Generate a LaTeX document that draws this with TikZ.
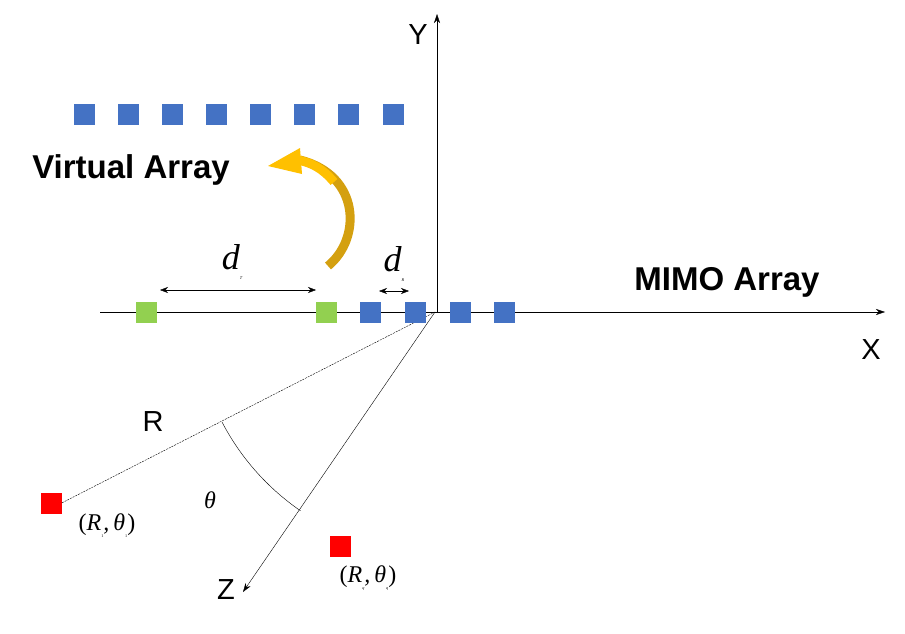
\documentclass[tikz,border=0pt]{standalone}
\usepackage{fontspec}
\setmainfont{Liberation Sans}
\newfontfamily\mserif{Liberation Serif}
\usetikzlibrary{arrows.meta}
\definecolor{blu}{HTML}{4472C4}
\definecolor{grn}{HTML}{92D050}
\definecolor{gold}{HTML}{D4A010}
\definecolor{amber}{HTML}{FFC000}
\newcommand{\sbs}[1]{\raisebox{-0.3em}{\scriptsize\fontsize{0.6em}{0.7em}\selectfont #1}}
\begin{document}
\begin{tikzpicture}[x=1pt,y=-1pt,
  sq/.style={minimum size=21pt,inner sep=0pt,draw=none},
  ax/.style={-{Stealth[length=9pt,width=6pt]}},
  lbl/.style={font=\fontsize{29}{34}\selectfont},
  ttl/.style={font=\bfseries\fontsize{33}{38}\selectfont},
  big/.style={font=\mserif\itshape\fontsize{36}{40}\selectfont},
  mid/.style={font=\mserif\itshape\fontsize{24}{28}\selectfont},
  dim/.style={{Stealth[length=8pt,width=6pt]}-{Stealth[length=8pt,width=6pt]}}]
\useasboundingbox (0,0) rectangle (905,634);
% axes
\coordinate (O) at (435,312);
\coordinate (xs) at (100,312);
\coordinate (xe) at (885,312);
\coordinate (ye) at (437,14);
\coordinate (ze) at (243,592);
\draw[ax] (xs) -- (xe);
\draw[ax] (437,312) -- (ye);
\draw[ax] (O) -- (ze);
% targets
\node[sq,fill=red] (t1) at (51,503) {};
\draw[dashed,dash pattern=on 2pt off 1pt] (O) -- (t1.east);
\node[sq,fill=red] (tq) at (340,546) {};
% angle arc
\draw (222,422) arc[start angle=152.5,end angle=124.5,radius=245];
% virtual array
\foreach \x [count=\i] in {84,128,172,216,260,304,348,393}
  \node[sq,fill=blu] (v\i) at (\x,114) {};
% MIMO array
\node[sq,fill=grn] (g1) at (146,312) {};
\node[sq,fill=grn] (g2) at (326,312) {};
\foreach \x [count=\i] in {370,415,460,504}
  \node[sq,fill=blu] (b\i) at (\x,312) {};
% spacing
\draw[dim] (160,290) -- (316,290);
\draw[dim] (379,291) -- (409,291);
\node[big] at (232,262) {d\sbs{T}};
\node[big] at (394,264) {d\sbs{R}};
% rotation arrow
\draw[gold,line width=9pt] (328,266) .. controls (362,238) and (360,175) .. (300,160);
\draw[amber,line width=9pt] (334,182) .. controls (322,168) and (312,163) .. (298,160);
\fill[amber] (300,148) -- (268,166) -- (302,174) -- cycle;
% labels
\node[ttl] at (131,170) {Virtual Array};
\node[ttl] at (727,282) {MIMO Array};
\node[lbl] at (418,35) {Y};
\node[lbl] at (871,350) {X};
\node[lbl] at (226,590) {Z};
\node[lbl] at (153,422) {R};
\node[mid] at (210,500) {θ};
\node[mid] at (107,526) {{\upshape(}R\sbs{\upshape 1},\,θ\sbs{\upshape 1}{\upshape)}};
\node[mid] at (368,578) {{\upshape(}R\sbs{q},\,θ\sbs{q}{\upshape)}};
\end{tikzpicture}
\end{document}
